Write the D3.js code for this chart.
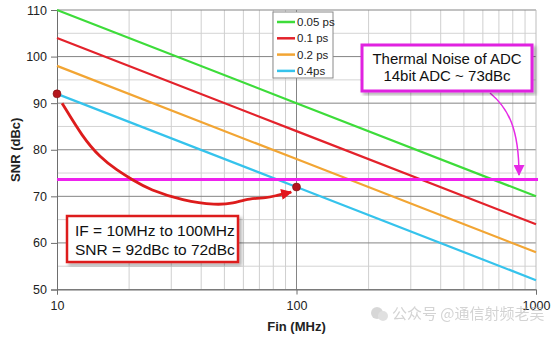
<!DOCTYPE html>
<html>
<head>
<meta charset="utf-8">
<script src="https://cdn.jsdelivr.net/npm/d3@7"></script>
<style>
  body { margin: 0; background: #fff; }
  svg { font-family: "Liberation Sans", Arial, sans-serif; }
</style>
</head>
<body>
<div id="chart"></div>
<script>
// jitter lines, SNR (dBc) read at 10 / 100 / 1000 MHz
const freqs = [10, 100, 1000];
const seriesNames = ['0.05 ps', '0.1 ps', '0.2 ps', '0.4ps'];
const snr005 = [110, 90, 70];
const snr01 = [104, 84, 64];
const snr02 = [98, 78, 58];
const snr04 = [92, 72, 52];
const seriesColors = ['#3ddc3a', '#e3222b', '#f2a533', '#35c3ec'];

// red IF curve
const curveFreq = [10.5, 12.8, 15.1, 17.8, 20.7, 24.4, 33.5, 46.4, 54.2, 63.8, 75, 82.5, 95];
const curveSnr = [90.0, 82.7, 78.4, 75.6, 73.5, 71.4, 69.1, 68.1, 68.5, 69.6, 69.6, 70.2, 70.9];
const markerFreq = [10, 100];
const markerSnr = [92, 72];

const noiseFloor = 73.6;

const yTicks = [50, 60, 70, 80, 90, 100, 110];
const yMinor = [55, 65, 75, 85, 95, 105];
const xTicks = [10, 100, 1000];
const xMinor = [20, 30, 40, 50, 60, 70, 80, 90, 200, 300, 400, 500, 600, 700, 800, 900];

const W = 554, H = 337;
const margin = {top: 10, right: 18, bottom: 47.5, left: 57};

let svg = d3.select('#chart').append('svg')
    .attr('width', W)
    .attr('height', H);

let defs = svg.append('defs');
defs.append('filter').attr('id', 'shadow')
    .append('feDropShadow')
    .attr('dx', 2.5).attr('dy', 2.5).attr('stdDeviation', 1.5)
    .attr('flood-color', '#000').attr('flood-opacity', 0.3);

let x = d3.scaleLog()
    .domain([10, 1000])
    .range([margin.left, W - margin.right]);

let y = d3.scaleLinear()
    .domain([50, 110])
    .range([H - margin.bottom, margin.top]);

// grid
let grid = svg.append('g');
grid.selectAll('.ymin').data(yMinor).enter().append('line')
    .attr('x1', x(10)).attr('x2', x(1000))
    .attr('y1', d => y(d)).attr('y2', d => y(d))
    .attr('stroke', '#d4d4d4').attr('stroke-width', 1);
grid.selectAll('.xmin').data(xMinor).enter().append('line')
    .attr('x1', d => x(d)).attr('x2', d => x(d))
    .attr('y1', y(50)).attr('y2', y(110))
    .attr('stroke', '#cfcfcf').attr('stroke-width', 1);
grid.selectAll('.ymaj').data(yTicks).enter().append('line')
    .attr('x1', x(10)).attr('x2', x(1000))
    .attr('y1', d => y(d)).attr('y2', d => y(d))
    .attr('stroke', '#858585').attr('stroke-width', 1);
grid.selectAll('.xmaj').data([100, 1000]).enter().append('line')
    .attr('x1', d => x(d)).attr('x2', d => x(d))
    .attr('y1', y(50)).attr('y2', y(110))
    .attr('stroke', d => d === 100 ? '#858585' : '#bdbdbd').attr('stroke-width', 1);

// axes
let yAxis = svg.append('g')
    .attr('transform', `translate(${margin.left},0)`)
    .call(d3.axisLeft(y).tickValues(yTicks).tickSize(6).tickPadding(4));
let xAxis = svg.append('g')
    .attr('transform', `translate(0,${y(50)})`)
    .call(d3.axisBottom(x).tickValues(xTicks).tickFormat(d3.format('d')).tickSize(5).tickPadding(7));
[yAxis, xAxis].forEach(a => {
    a.select('.domain').attr('stroke', '#6e6e6e');
    a.selectAll('.tick line').attr('stroke', '#6e6e6e');
    a.selectAll('.tick text')
        .attr('fill', '#222')
        .style('font-size', '12.5px')
        .style('font-family', '"Liberation Sans", Arial, sans-serif');
});

svg.append('text')
    .attr('x', x(100)).attr('y', 331)
    .attr('text-anchor', 'middle')
    .style('font-size', '13px').style('font-weight', 'bold')
    .attr('fill', '#222')
    .text('Fin (MHz)');

svg.append('text')
    .attr('transform', `translate(20,${(y(50) + y(110)) / 2}) rotate(-90)`)
    .attr('text-anchor', 'middle')
    .style('font-size', '13px').style('font-weight', 'bold')
    .attr('fill', '#222')
    .text('SNR (dBc)');

// jitter lines
let allSeries = [snr005, snr01, snr02, snr04];
let line = d3.line().x(d => x(d[0])).y(d => y(d[1]));
allSeries.forEach((s, i) => {
    svg.append('path')
        .datum(freqs.map((f, j) => [f, s[j]]))
        .attr('d', line)
        .attr('fill', 'none')
        .attr('stroke', seriesColors[i])
        .attr('stroke-width', 2.2);
});

// thermal noise line
svg.append('line')
    .attr('x1', x(10)).attr('x2', x(1000) + 2)
    .attr('y1', y(noiseFloor)).attr('y2', y(noiseFloor))
    .attr('stroke', '#ee22ee').attr('stroke-width', 3);

// red IF curve with arrow
defs.append('marker')
    .attr('id', 'redArrow')
    .attr('viewBox', '0 0 10 10')
    .attr('refX', 9).attr('refY', 5)
    .attr('markerUnits', 'userSpaceOnUse')
    .attr('markerWidth', 15).attr('markerHeight', 11)
    .attr('orient', 'auto')
    .append('path').attr('d', 'M0,0 L10,5 L0,10 Z').attr('fill', '#e3161d');

let curveLine = d3.line()
    .x(d => x(d[0])).y(d => y(d[1]))
    .curve(d3.curveBasis);
svg.append('path')
    .datum(curveFreq.map((f, i) => [f, curveSnr[i]]))
    .attr('d', curveLine)
    .attr('fill', 'none')
    .attr('stroke', '#dd1c1c')
    .attr('stroke-width', 2.8)
    .attr('marker-end', 'url(#redArrow)');

svg.selectAll('.dot').data(markerFreq).enter().append('circle')
    .attr('cx', d => x(d))
    .attr('cy', (d, i) => y(markerSnr[i]))
    .attr('r', 4)
    .attr('fill', '#b5161d')
    .attr('stroke', '#7d1010').attr('stroke-width', 0.6);

// legend
let legend = svg.append('g');
legend.append('rect')
    .attr('x', 273).attr('y', 12).attr('width', 60).attr('height', 66)
    .attr('fill', '#fff').attr('stroke', '#8a8a8a').attr('stroke-width', 1);
seriesNames.forEach((name, i) => {
    let yy = 22 + i * 16.3;
    legend.append('line')
        .attr('x1', 277).attr('x2', 295).attr('y1', yy).attr('y2', yy)
        .attr('stroke', seriesColors[i]).attr('stroke-width', 2.5);
    legend.append('text')
        .attr('x', 297).attr('y', yy + 4)
        .style('font-size', '11.5px')
        .attr('fill', '#222')
        .text(name);
});

// thermal noise annotation
defs.append('marker')
    .attr('id', 'magArrow')
    .attr('viewBox', '0 0 10 10')
    .attr('refX', 9).attr('refY', 5)
    .attr('markerUnits', 'userSpaceOnUse')
    .attr('markerWidth', 13).attr('markerHeight', 11)
    .attr('orient', 'auto')
    .append('path').attr('d', 'M0,0 L10,5 L0,10 Z').attr('fill', '#e62ae6');

svg.append('path')
    .attr('d', 'M490,93 C508,108 519,128 519,175')
    .attr('fill', 'none')
    .attr('stroke', '#e62ae6').attr('stroke-width', 1.5)
    .attr('marker-end', 'url(#magArrow)');

svg.append('rect')
    .attr('x', 362).attr('y', 45).attr('width', 170).attr('height', 46)
    .attr('fill', '#fff').attr('stroke', '#e020e0').attr('stroke-width', 3)
    .attr('filter', 'url(#shadow)');
svg.append('text')
    .attr('x', 447).attr('y', 64)
    .attr('text-anchor', 'middle')
    .style('font-size', '15px').attr('fill', '#111')
    .text('Thermal Noise of ADC');
svg.append('text')
    .attr('x', 447).attr('y', 81)
    .attr('text-anchor', 'middle')
    .style('font-size', '15px').attr('fill', '#111')
    .text('14bit ADC ~ 73dBc');

// IF annotation
svg.append('rect')
    .attr('x', 67).attr('y', 216).attr('width', 171).attr('height', 46)
    .attr('fill', '#fff').attr('stroke', '#dd1c1c').attr('stroke-width', 2.5)
    .attr('filter', 'url(#shadow)');
svg.append('text')
    .attr('x', 75).attr('y', 236)
    .style('font-size', '15.5px').attr('fill', '#111')
    .text('IF = 10MHz to 100MHz');
svg.append('text')
    .attr('x', 75).attr('y', 254.5)
    .style('font-size', '15.5px').attr('fill', '#111')
    .text('SNR = 92dBc to 72dBc');

// watermark
let wm = svg.append('g').attr('opacity', 0.55);
wm.append('circle').attr('cx', 377).attr('cy', 313).attr('r', 6).attr('fill', '#b8b8b8');
wm.append('circle').attr('cx', 383).attr('cy', 316).attr('r', 5).attr('fill', '#c8c8c8');
wm.append('text')
    .attr('x', 392).attr('y', 319)
    .style('font-family', '"Noto Sans CJK SC", sans-serif')
    .style('font-size', '15px')
    .attr('fill', '#b0b0b0')
    .text('公众号 @通信射频老吴');
</script>
</body>
</html>
